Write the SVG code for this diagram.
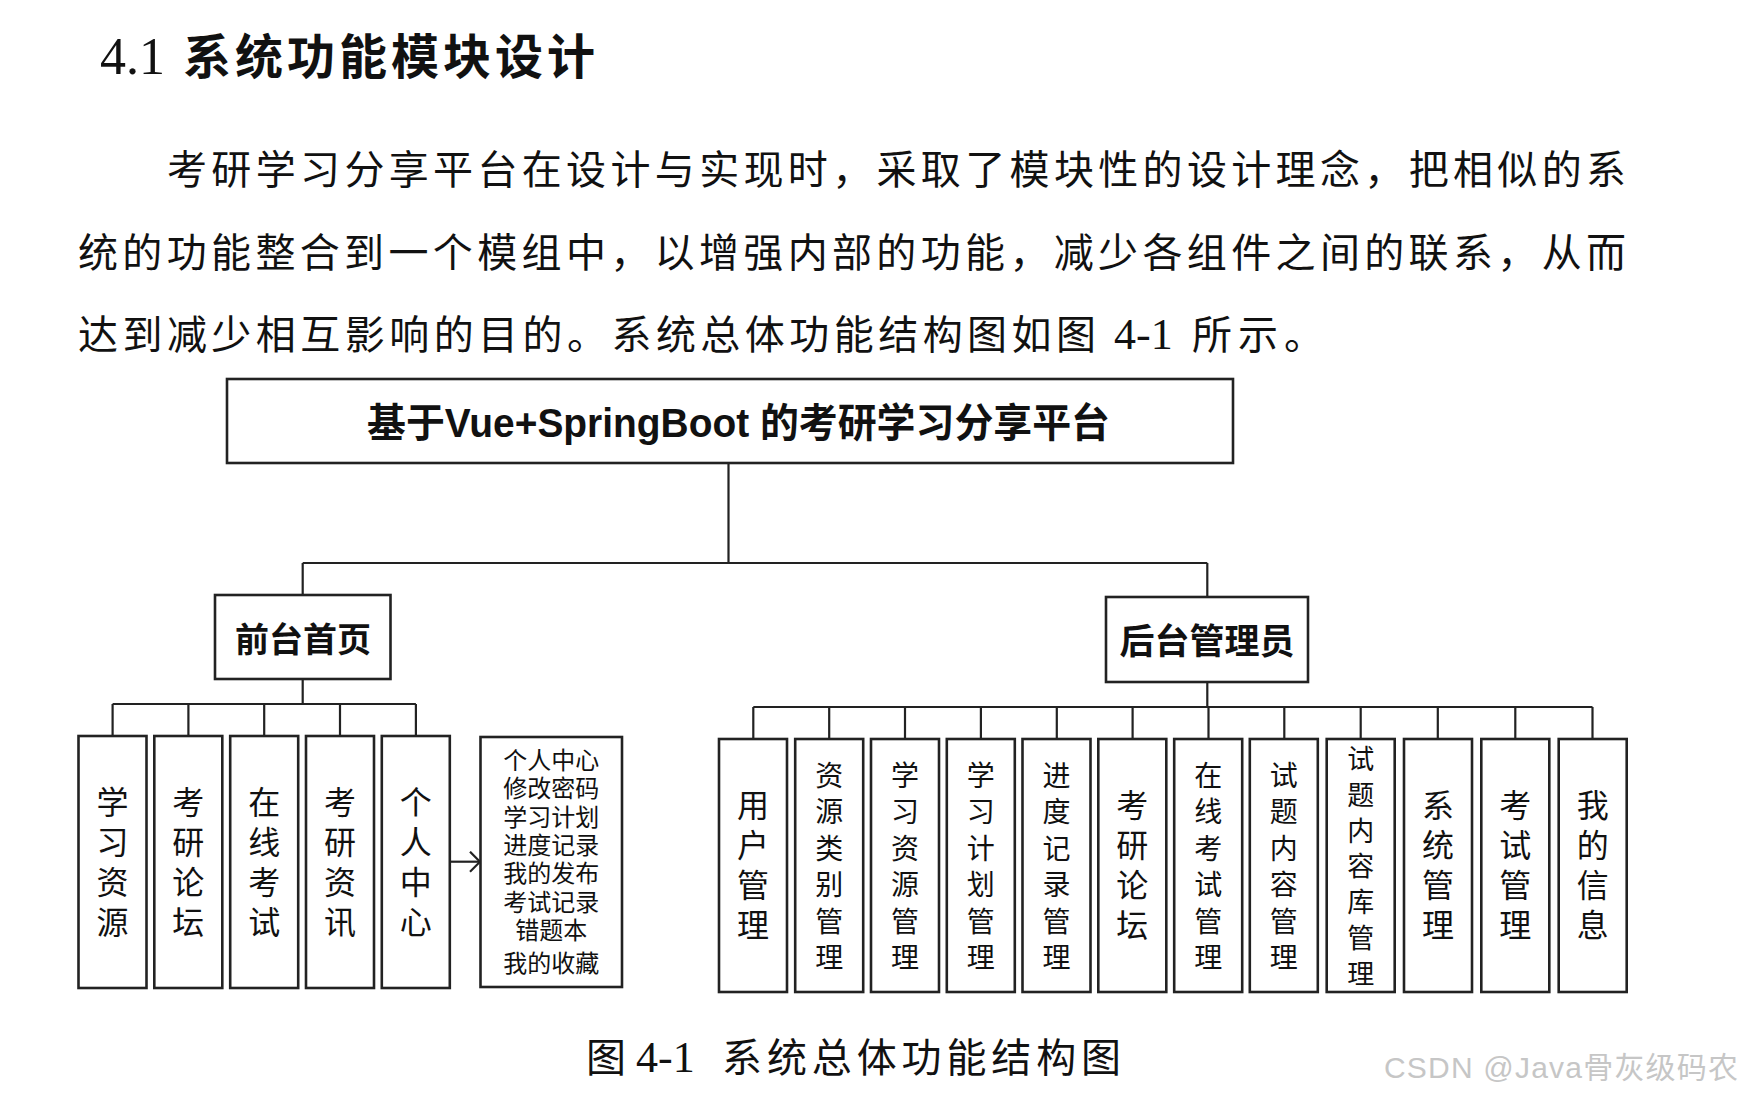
<svg xmlns="http://www.w3.org/2000/svg" width="1744" height="1096" viewBox="0 0 1744 1096">
<defs>
<style>
.serif{font-family:"Liberation Serif","Noto Sans CJK SC",serif;fill:#111;}
.sans{font-family:"Liberation Sans","Noto Sans CJK SC",sans-serif;fill:#111;}
.box{fill:#fff;stroke:#222;stroke-width:2.6;}
.ln{fill:none;stroke:#222;stroke-width:2.2;}
.v4{font-family:"Liberation Serif","Noto Sans CJK SC",serif;font-size:32px;fill:#111;text-anchor:middle;}
.v6{font-family:"Liberation Serif","Noto Sans CJK SC",serif;font-size:28px;fill:#111;text-anchor:middle;}
.v7{font-family:"Liberation Serif","Noto Sans CJK SC",serif;font-size:27px;fill:#111;text-anchor:middle;}
.lst{font-family:"Liberation Serif","Noto Sans CJK SC",serif;font-size:24px;fill:#111;text-anchor:middle;}
</style>
<marker id="open" markerWidth="12" markerHeight="22" refX="11" refY="11" orient="auto" markerUnits="userSpaceOnUse">
<path d="M1,1 L11,11 L1,21" fill="none" stroke="#222" stroke-width="2.2"/>
</marker>
</defs>
<rect width="1744" height="1096" fill="#fff"/>

<!-- heading and paragraph -->
<text class="serif" x="100" y="74" font-size="52">4.1</text>
<text class="sans" x="183" y="74" font-size="48" font-weight="bold" textLength="412" lengthAdjust="spacing">系统功能模块设计</text>
<text class="serif" x="167" y="184" font-size="40" textLength="1459" lengthAdjust="spacing">考研学习分享平台在设计与实现时，采取了模块性的设计理念，把相似的系</text>
<text class="serif" x="78" y="267" font-size="40" textLength="1548" lengthAdjust="spacing">统的功能整合到一个模组中，以增强内部的功能，减少各组件之间的联系，从而</text>
<text class="serif" x="78" y="349" font-size="40" textLength="1018" lengthAdjust="spacing">达到减少相互影响的目的。系统总体功能结构图如图</text>
<text class="serif" x="1114" y="349" font-size="44">4-1</text>
<text class="serif" x="1192" y="349" font-size="40" textLength="132" lengthAdjust="spacing">所示。</text>

<!-- connectors -->
<g id="connectors">
<path class="ln" d="M728.5,463 V563 M302.7,563 H1207.3 M302.7,563 V595 M1207.3,563 V597"/>
<path class="ln" d="M302.7,679 V704 M112.6,704 H415.9 M112.6,704 V736 M188.4,704 V736 M264.2,704 V736 M340,704 V736 M415.9,704 V736"/>
<path class="ln" d="M1207.3,682 V707 M753.3,707 H1592.5 M753.3,707 V739 M829.2,707 V739 M905,707 V739 M980.9,707 V739 M1056.8,707 V739 M1132.6,707 V739 M1208.5,707 V739 M1284.3,707 V739 M1360.7,707 V739 M1437.8,707 V739 M1515.3,707 V739 M1592.5,707 V739"/>
<line class="ln" x1="450" y1="861.7" x2="480" y2="861.7" marker-end="url(#open)"/>
</g>

<!-- root -->
<g id="root">
<rect class="box" x="227" y="379" width="1006" height="84"/>
<text class="sans" x="367" y="437" font-size="40" font-weight="bold" textLength="743" lengthAdjust="spacingAndGlyphs">基于Vue+SpringBoot 的考研学习分享平台</text>
</g>

<g id="front">
<rect class="box" x="215" y="595" width="175.5" height="84"/>
<text class="sans" x="303" y="652" font-size="34" font-weight="bold" text-anchor="middle">前台首页</text>
</g>

<g id="admin">
<rect class="box" x="1106" y="597" width="202" height="85"/>
<text class="sans" x="1207" y="654" font-size="35" font-weight="bold" text-anchor="middle">后台管理员</text>
</g>

<!-- front children -->
<g id="f1"><rect class="box" x="78.5" y="736" width="68" height="252"/>
<text class="v4"><tspan x="112.5" y="814">学</tspan><tspan x="112.5" y="854">习</tspan><tspan x="112.5" y="894">资</tspan><tspan x="112.5" y="934">源</tspan></text></g>
<g id="f2"><rect class="box" x="154.3" y="736" width="68" height="252"/>
<text class="v4"><tspan x="188.3" y="814">考</tspan><tspan x="188.3" y="854">研</tspan><tspan x="188.3" y="894">论</tspan><tspan x="188.3" y="934">坛</tspan></text></g>
<g id="f3"><rect class="box" x="230.2" y="736" width="68" height="252"/>
<text class="v4"><tspan x="264.2" y="814">在</tspan><tspan x="264.2" y="854">线</tspan><tspan x="264.2" y="894">考</tspan><tspan x="264.2" y="934">试</tspan></text></g>
<g id="f4"><rect class="box" x="306" y="736" width="68" height="252"/>
<text class="v4"><tspan x="340" y="814">考</tspan><tspan x="340" y="854">研</tspan><tspan x="340" y="894">资</tspan><tspan x="340" y="934">讯</tspan></text></g>
<g id="f5"><rect class="box" x="381.8" y="736" width="68" height="252"/>
<text class="v4"><tspan x="415.8" y="814">个</tspan><tspan x="415.8" y="854">人</tspan><tspan x="415.8" y="894">中</tspan><tspan x="415.8" y="934">心</tspan></text></g>
<g id="f6"><rect class="box" x="480.5" y="737" width="141.5" height="250"/>
<text class="lst"><tspan x="551.3" y="769">个人中心</tspan><tspan x="551.3" y="797">修改密码</tspan><tspan x="551.3" y="826">学习计划</tspan><tspan x="551.3" y="854">进度记录</tspan><tspan x="551.3" y="882">我的发布</tspan><tspan x="551.3" y="911">考试记录</tspan><tspan x="551.3" y="939">错题本</tspan><tspan x="551.3" y="972">我的收藏</tspan></text></g>

<!-- admin children -->
<g id="a1"><rect class="box" x="719" y="739" width="68" height="253"/>
<text class="v4"><tspan x="753" y="817">用</tspan><tspan x="753" y="857">户</tspan><tspan x="753" y="897">管</tspan><tspan x="753" y="937">理</tspan></text></g>
<g id="a2"><rect class="box" x="795.2" y="739" width="68" height="253"/>
<text class="v6"><tspan x="829.2" y="786">资</tspan><tspan x="829.2" y="822">源</tspan><tspan x="829.2" y="859">类</tspan><tspan x="829.2" y="895">别</tspan><tspan x="829.2" y="932">管</tspan><tspan x="829.2" y="968">理</tspan></text></g>
<g id="a3"><rect class="box" x="871" y="739" width="68" height="253"/>
<text class="v6"><tspan x="905" y="786">学</tspan><tspan x="905" y="822">习</tspan><tspan x="905" y="859">资</tspan><tspan x="905" y="895">源</tspan><tspan x="905" y="932">管</tspan><tspan x="905" y="968">理</tspan></text></g>
<g id="a4"><rect class="box" x="946.8" y="739" width="68" height="253"/>
<text class="v6"><tspan x="980.8" y="786">学</tspan><tspan x="980.8" y="822">习</tspan><tspan x="980.8" y="859">计</tspan><tspan x="980.8" y="895">划</tspan><tspan x="980.8" y="932">管</tspan><tspan x="980.8" y="968">理</tspan></text></g>
<g id="a5"><rect class="box" x="1022.5" y="739" width="68" height="253"/>
<text class="v6"><tspan x="1056.5" y="786">进</tspan><tspan x="1056.5" y="822">度</tspan><tspan x="1056.5" y="859">记</tspan><tspan x="1056.5" y="895">录</tspan><tspan x="1056.5" y="932">管</tspan><tspan x="1056.5" y="968">理</tspan></text></g>
<g id="a6"><rect class="box" x="1098.3" y="739" width="68" height="253"/>
<text class="v4"><tspan x="1132.3" y="817">考</tspan><tspan x="1132.3" y="857">研</tspan><tspan x="1132.3" y="897">论</tspan><tspan x="1132.3" y="937">坛</tspan></text></g>
<g id="a7"><rect class="box" x="1174.2" y="739" width="68" height="253"/>
<text class="v6"><tspan x="1208.2" y="786">在</tspan><tspan x="1208.2" y="822">线</tspan><tspan x="1208.2" y="859">考</tspan><tspan x="1208.2" y="895">试</tspan><tspan x="1208.2" y="932">管</tspan><tspan x="1208.2" y="968">理</tspan></text></g>
<g id="a8"><rect class="box" x="1249.8" y="739" width="68" height="253"/>
<text class="v6"><tspan x="1283.8" y="786">试</tspan><tspan x="1283.8" y="822">题</tspan><tspan x="1283.8" y="859">内</tspan><tspan x="1283.8" y="895">容</tspan><tspan x="1283.8" y="932">管</tspan><tspan x="1283.8" y="968">理</tspan></text></g>
<g id="a9"><rect class="box" x="1326.7" y="739" width="68" height="253"/>
<text class="v7"><tspan x="1360.7" y="769">试</tspan><tspan x="1360.7" y="805">题</tspan><tspan x="1360.7" y="841">内</tspan><tspan x="1360.7" y="876">容</tspan><tspan x="1360.7" y="912">库</tspan><tspan x="1360.7" y="948">管</tspan><tspan x="1360.7" y="984">理</tspan></text></g>
<g id="a10"><rect class="box" x="1404" y="739" width="68" height="253"/>
<text class="v4"><tspan x="1438" y="817">系</tspan><tspan x="1438" y="857">统</tspan><tspan x="1438" y="897">管</tspan><tspan x="1438" y="937">理</tspan></text></g>
<g id="a11"><rect class="box" x="1481.3" y="739" width="68" height="253"/>
<text class="v4"><tspan x="1515.3" y="817">考</tspan><tspan x="1515.3" y="857">试</tspan><tspan x="1515.3" y="897">管</tspan><tspan x="1515.3" y="937">理</tspan></text></g>
<g id="a12"><rect class="box" x="1558.7" y="739" width="68" height="253"/>
<text class="v4"><tspan x="1592.7" y="817">我</tspan><tspan x="1592.7" y="857">的</tspan><tspan x="1592.7" y="897">信</tspan><tspan x="1592.7" y="937">息</tspan></text></g>

<!-- caption and watermark -->
<text class="serif" x="586" y="1072" font-size="40">图</text>
<text class="serif" x="636" y="1072" font-size="44">4-1</text>
<text class="serif" x="722" y="1072" font-size="40" textLength="399" lengthAdjust="spacing">系统总体功能结构图</text>
<text x="1384" y="1078" font-family="'Liberation Sans','Noto Sans CJK SC',sans-serif" font-size="30" fill="#c6c6c6" textLength="354" lengthAdjust="spacing">CSDN @Java骨灰级码农</text>
</svg>
